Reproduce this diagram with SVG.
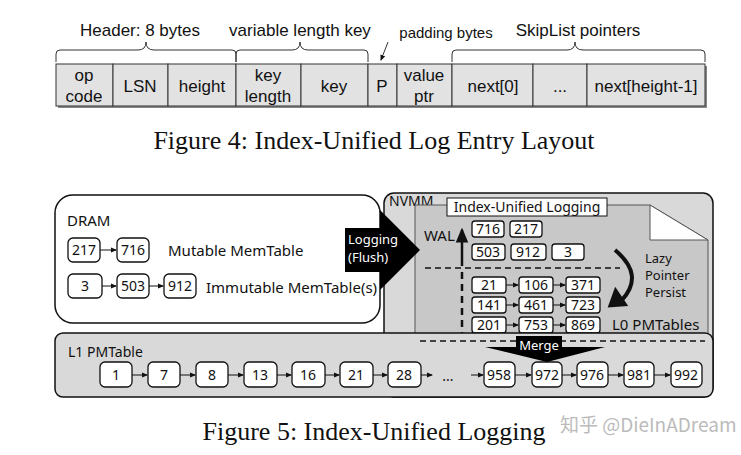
<svg xmlns="http://www.w3.org/2000/svg" width="741" height="455" viewBox="0 0 741 455">
<style>
.c{fill:#e2e2e2;stroke:#333;stroke-width:1}
.t{font-family:"Liberation Sans",Arial,sans-serif;font-size:17px;fill:#111;text-anchor:middle}
.k{font-family:"Noto Sans","DejaVu Sans",sans-serif;fill:#111}
.n{fill:#fff;stroke:#111;stroke-width:1.3}
.nt{font-family:"Noto Sans","DejaVu Sans",sans-serif;font-size:14px;fill:#111;text-anchor:middle}
.br{fill:none;stroke:#333;stroke-width:1}
.cap{font-family:"Liberation Serif","Times New Roman",serif;font-size:26px;fill:#111;text-anchor:middle}
.ln{stroke:#111;stroke-width:1;marker-end:url(#a)}
.d{stroke:#111;stroke-width:1.5;stroke-dasharray:6 4}
</style>
<defs>
<marker id="a" markerWidth="6" markerHeight="6" refX="5" refY="3" orient="auto"><path d="M0,0.5 L6,3 L0,5.5z" fill="#111"/></marker>
</defs>
<rect width="741" height="455" fill="#fff"/>
<g id="fig4">
<rect x="58" y="66" width="649" height="42" fill="#888"/>
<rect class="c" x="56" y="64" width="57" height="42"/>
<rect class="c" x="113" y="64" width="55" height="42"/>
<rect class="c" x="168" y="64" width="68" height="42"/>
<rect class="c" x="236" y="64" width="65" height="42"/>
<rect class="c" x="301" y="64" width="67" height="42"/>
<rect class="c" x="368" y="64" width="29" height="42"/>
<rect class="c" x="397" y="64" width="55" height="42"/>
<rect class="c" x="452" y="64" width="81" height="42"/>
<rect class="c" x="533" y="64" width="54" height="42"/>
<rect class="c" x="587" y="64" width="118" height="42"/>
<text class="t" x="84" y="81">op</text><text class="t" x="84" y="102">code</text>
<text class="t" x="140" y="92">LSN</text>
<text class="t" x="202" y="92">height</text>
<text class="t" x="268" y="81">key</text><text class="t" x="268" y="102">length</text>
<text class="t" x="334" y="92">key</text>
<text class="t" x="382" y="92">P</text>
<text class="t" x="424" y="81">value</text><text class="t" x="424" y="102">ptr</text>
<text class="t" x="493" y="92">next[0]</text>
<text class="t" x="560" y="92">...</text>
<text class="t" x="646" y="92">next[height-1]</text>
<path class="br" d="M56,62 V54 Q56,50 60,50 H138 Q146,50 146,42 Q146,50 154,50 H232 Q236,50 236,54 V62"/>
<path class="br" d="M236,62 V54 Q236,50 240,50 H292 Q300,50 300,42 Q300,50 308,50 H364 Q368,50 368,54 V62"/>
<path class="br" d="M452,62 V54 Q452,50 456,50 H567 Q575,50 575,42 Q575,50 583,50 H701 Q705,50 705,54 V62"/>
<path d="M388,42 L381,60" stroke="#333" stroke-width="1" marker-end="url(#a)"/>
<text class="t" x="140" y="36">Header: 8 bytes</text>
<text class="t" x="300" y="36">variable length key</text>
<text class="t" x="446" y="38" style="font-size:15px">padding bytes</text>
<text class="t" x="578" y="36">SkipList pointers</text>
<text class="cap" x="374" y="149">Figure 4: Index-Unified Log Entry Layout</text>
</g>
<g id="nvmm">
<rect x="384" y="193" width="329" height="204" rx="10" fill="#d9d9d9" stroke="#111" stroke-width="1.5"/>
<text class="k" x="389" y="206" font-size="14">NVMM</text>
<path d="M415,205 H650 L708,240 V345 H415 Z" fill="#c8c8c8" stroke="#555" stroke-width="1"/>
<path d="M650,205 L708,240 H650 Z" fill="#fff" stroke="#555" stroke-width="1"/>
<rect x="447" y="198" width="160" height="18" fill="#fff" stroke="#111" stroke-width="1"/>
<text class="k" x="527" y="212" font-size="14" text-anchor="middle">Index-Unified Logging</text>
</g>
<g id="dram">
<rect x="55" y="195" width="325" height="128" rx="18" fill="#fff" stroke="#111" stroke-width="1.5"/>
<text class="k" x="67" y="226" font-size="15">DRAM</text>
<text class="k" x="168" y="256" font-size="15">Mutable MemTable</text>
<text class="k" x="206" y="293" font-size="15">Immutable MemTable(s)</text>
</g>
<g id="dram-nodes">
<rect class="n" x="68" y="238" width="32" height="24" rx="5"/><text class="nt" x="84" y="255">217</text>
<rect class="n" x="117" y="238" width="32" height="24" rx="5"/><text class="nt" x="133" y="255">716</text>
<rect class="n" x="68" y="274" width="34" height="24" rx="5"/><text class="nt" x="85" y="291">3</text>
<rect class="n" x="117" y="274" width="32" height="24" rx="5"/><text class="nt" x="133" y="291">503</text>
<rect class="n" x="164" y="274" width="32" height="24" rx="5"/><text class="nt" x="180" y="291">912</text>
</g>
<g id="logging-arrow">
<path d="M345,228 H380 V210 L420,250 L380,290 V272 H345 Z" fill="#000"/>
<text x="348" y="244" font-family="Noto Sans,DejaVu Sans,sans-serif" font-size="13" fill="#fff">Logging</text>
<text x="348" y="262" font-family="Noto Sans,DejaVu Sans,sans-serif" font-size="13" fill="#fff">(Flush)</text>
</g>
<g id="wal">
<text class="k" x="424" y="241" font-size="15">WAL</text>
<line x1="462" y1="266" x2="462" y2="230" stroke="#111" stroke-width="2.5" marker-end="url(#a)"/>
<line x1="462" y1="272" x2="462" y2="333" stroke="#111" stroke-width="2.5" stroke-dasharray="7 5"/>
<rect class="n" x="472" y="221" width="32" height="16" rx="3"/><text class="nt" x="488" y="234">716</text>
<rect class="n" x="510" y="221" width="32" height="16" rx="3"/><text class="nt" x="526" y="234">217</text>
<rect class="n" x="472" y="244" width="33" height="16" rx="3"/><text class="nt" x="488" y="257">503</text>
<rect class="n" x="511" y="244" width="35" height="16" rx="3"/><text class="nt" x="528" y="257">912</text>
<rect class="n" x="552" y="244" width="32" height="16" rx="3"/><text class="nt" x="568" y="257">3</text>
<line class="d" x1="425" y1="268" x2="620" y2="268"/>
<text class="k" x="645" y="263" font-size="13">Lazy</text>
<text class="k" x="645" y="280" font-size="13">Pointer</text>
<text class="k" x="645" y="297" font-size="13">Persist</text>
<path d="M615,250 Q645,275 622,300" fill="none" stroke="#111" stroke-width="4"/>
<path d="M610,290 L630,302 L612,312 Z" fill="#111" transform="rotate(25 620 300)"/>
<text class="k" x="612" y="330" font-size="15">L0 PMTables</text>
</g>
<g id="l0">
<rect class="n" x="472" y="277" width="34" height="16" rx="3"/><text class="nt" x="489" y="290">21</text>
<rect class="n" x="519" y="277" width="34" height="16" rx="3"/><text class="nt" x="536" y="290">106</text>
<rect class="n" x="566" y="277" width="34" height="16" rx="3"/><text class="nt" x="583" y="290">371</text>
<rect class="n" x="472" y="297" width="34" height="16" rx="3"/><text class="nt" x="489" y="310">141</text>
<rect class="n" x="519" y="297" width="34" height="16" rx="3"/><text class="nt" x="536" y="310">461</text>
<rect class="n" x="566" y="297" width="34" height="16" rx="3"/><text class="nt" x="583" y="310">723</text>
<rect class="n" x="472" y="317" width="34" height="16" rx="3"/><text class="nt" x="489" y="330">201</text>
<rect class="n" x="519" y="317" width="34" height="16" rx="3"/><text class="nt" x="536" y="330">753</text>
<rect class="n" x="566" y="317" width="34" height="16" rx="3"/><text class="nt" x="583" y="330">869</text>
</g>
<g id="l1">
<rect x="55" y="333" width="658" height="64" rx="8" fill="#d9d9d9" stroke="#111" stroke-width="1.5"/>
<line class="d" x1="420" y1="341" x2="705" y2="341"/>
<text class="k" x="68" y="357" font-size="14">L1 PMTable</text>
<rect class="n" x="100" y="362" width="32" height="25" rx="5"/><text class="nt" x="116" y="380">1</text>
<rect class="n" x="148" y="362" width="32" height="25" rx="5"/><text class="nt" x="164" y="380">7</text>
<rect class="n" x="196" y="362" width="32" height="25" rx="5"/><text class="nt" x="212" y="380">8</text>
<rect class="n" x="244" y="362" width="33" height="25" rx="5"/><text class="nt" x="260" y="380">13</text>
<rect class="n" x="292" y="362" width="33" height="25" rx="5"/><text class="nt" x="308" y="380">16</text>
<rect class="n" x="340" y="362" width="33" height="25" rx="5"/><text class="nt" x="356" y="380">21</text>
<rect class="n" x="388" y="362" width="33" height="25" rx="5"/><text class="nt" x="404" y="380">28</text>
<text class="nt" x="448" y="381" font-size="11">...</text>
<rect class="n" x="484" y="362" width="31" height="25" rx="5"/><text class="nt" x="499" y="380">958</text>
<rect class="n" x="532" y="362" width="30" height="25" rx="5"/><text class="nt" x="547" y="380">972</text>
<rect class="n" x="577" y="362" width="31" height="25" rx="5"/><text class="nt" x="592" y="380">976</text>
<rect class="n" x="624" y="362" width="30" height="25" rx="5"/><text class="nt" x="639" y="380">981</text>
<rect class="n" x="671" y="362" width="31" height="25" rx="5"/><text class="nt" x="686" y="380">992</text>
<path d="M485,347 H605 L547,362 Z" fill="#000"/>
<rect x="516" y="336" width="46" height="17" fill="#000"/>
<text x="539" y="350" font-family="Noto Sans,DejaVu Sans,sans-serif" font-size="13" fill="#fff" text-anchor="middle">Merge</text>
</g>
<g id="connectors">
<line class="ln" x1="100" y1="250" x2="116" y2="250"/>
<line class="ln" x1="102" y1="286" x2="116" y2="286"/>
<line class="ln" x1="149" y1="286" x2="163" y2="286"/>
<line class="ln" x1="506" y1="285" x2="518" y2="285"/>
<line class="ln" x1="553" y1="285" x2="565" y2="285"/>
<line class="ln" x1="506" y1="305" x2="518" y2="305"/>
<line class="ln" x1="553" y1="305" x2="565" y2="305"/>
<line class="ln" x1="506" y1="325" x2="518" y2="325"/>
<line class="ln" x1="553" y1="325" x2="565" y2="325"/>
<line class="ln" x1="132" y1="375" x2="147" y2="375"/>
<line class="ln" x1="180" y1="375" x2="195" y2="375"/>
<line class="ln" x1="228" y1="375" x2="243" y2="375"/>
<line class="ln" x1="277" y1="375" x2="291" y2="375"/>
<line class="ln" x1="325" y1="375" x2="339" y2="375"/>
<line class="ln" x1="373" y1="375" x2="387" y2="375"/>
<line class="ln" x1="421" y1="375" x2="432" y2="375"/>
<line class="ln" x1="471" y1="375" x2="483" y2="375"/>
<line class="ln" x1="515" y1="375" x2="531" y2="375"/>
<line class="ln" x1="562" y1="375" x2="576" y2="375"/>
<line class="ln" x1="608" y1="375" x2="623" y2="375"/>
<line class="ln" x1="654" y1="375" x2="670" y2="375"/>
</g>
<text class="cap" x="374" y="440">Figure 5: Index-Unified Logging</text>
<text x="560" y="432" font-family="Noto Sans CJK SC,Noto Sans,sans-serif" font-size="19" fill="#bbb">知乎 @DieInADream</text>
</svg>
